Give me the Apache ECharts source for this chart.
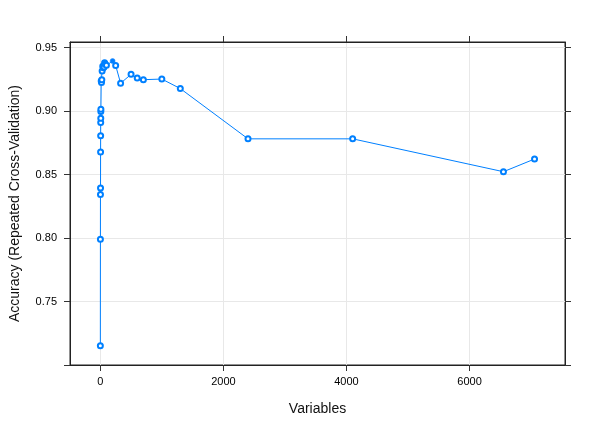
<!DOCTYPE html>
<html>
<head>
<meta charset="utf-8">
<script src="https://cdn.jsdelivr.net/npm/echarts@6/dist/echarts.min.js"></script>
<style>
  html, body { margin: 0; padding: 0; background: #fff; }
  #chart { width: 600px; height: 429px; }
</style>
</head>
<body>
<div id="chart"></div>
<script>
// number of variables kept by the feature elimination
const variables = [1, 2, 3, 4, 5, 6, 7, 8, 9, 10, 15, 20, 25, 30, 40, 50, 60, 70, 80, 100,
  200, 250, 330, 500, 600, 700, 1000, 1300, 2400, 4100, 6550, 7055]
// resampled accuracy for each subset size
const accuracy = [0.7152, 0.7991, 0.8344, 0.8394, 0.8679, 0.8806, 0.8910, 0.8945, 0.8998, 0.9015,
  0.9237, 0.9225, 0.9248, 0.9316, 0.9353, 0.9343, 0.9348, 0.9382, 0.9369, 0.9361,
  0.9395, 0.9360, 0.9220, 0.9290, 0.9261, 0.9248, 0.9253, 0.9178, 0.8782, 0.8782, 0.8523, 0.8623]
const xTicks = [0, 2000, 4000, 6000]
const yTicks = [0.70, 0.75, 0.80, 0.85, 0.90, 0.95]
const yLabels = [0.75, 0.80, 0.85, 0.90, 0.95]

const lineColor = '#0080ff'
const best = accuracy.indexOf(Math.max(...accuracy))

const points = variables.map((v, i) => {
  const p = { value: [v, accuracy[i]] }
  if (i === best) {
    p.symbol = 'circle'
    p.itemStyle = { color: lineColor }
  }
  return p
})

const chart = echarts.init(document.getElementById('chart'))

const tickStyle = { show: true, inside: false, length: 6, lineStyle: { color: '#333', width: 1 } }
const axisLine = { show: true, onZero: false, lineStyle: { color: '#222', width: 1 } }
const font = { fontFamily: 'Liberation Sans, Arial, sans-serif', fontSize: 11, color: '#000' }

chart.setOption({
  animation: false,
  backgroundColor: '#fff',
  grid: { left: 68, right: 35, top: 42, bottom: 64, show: true, borderColor: '#222', borderWidth: 1 },
  xAxis: [
    {
      type: 'value', position: 'bottom', min: -492, max: 7550,
      name: 'Variables', nameLocation: 'middle', nameGap: 37,
      nameTextStyle: { fontFamily: font.fontFamily, fontSize: 14, color: '#111' },
      axisLine: axisLine,
      axisTick: Object.assign({ customValues: xTicks }, tickStyle),
      axisLabel: Object.assign({ customValues: xTicks, margin: 11, formatter: v => String(v) }, font),
      splitLine: { show: true, lineStyle: { color: '#e8e8e8', width: 1 } }
    },
    {
      type: 'value', position: 'top', min: -492, max: 7550,
      axisLine: axisLine,
      axisTick: Object.assign({ customValues: xTicks }, tickStyle),
      axisLabel: { show: false },
      splitLine: { show: false }
    }
  ],
  yAxis: [
    {
      type: 'value', position: 'left', min: 0.70, max: 0.9545,
      name: 'Accuracy (Repeated Cross-Validation)', nameLocation: 'middle', nameGap: 48,
      nameTextStyle: { fontFamily: font.fontFamily, fontSize: 14, color: '#111' },
      axisLine: axisLine,
      axisTick: Object.assign({ customValues: yTicks }, tickStyle),
      axisLabel: Object.assign({ customValues: yLabels, margin: 13, formatter: v => v.toFixed(2) }, font),
      splitLine: { show: true, lineStyle: { color: '#e8e8e8', width: 1 } }
    },
    {
      type: 'value', position: 'right', min: 0.70, max: 0.9545,
      axisLine: axisLine,
      axisTick: Object.assign({ customValues: yTicks }, tickStyle),
      axisLabel: { show: false },
      splitLine: { show: false }
    }
  ],
  series: [
    {
      type: 'line',
      data: points,
      symbol: 'emptyCircle',
      symbolSize: 5,
      showAllSymbol: true,
      lineStyle: { color: lineColor, width: 1 },
      itemStyle: { color: lineColor, borderColor: '#2b8fff', borderWidth: 0.6 }
    }
  ]
})
</script>
</body>
</html>
